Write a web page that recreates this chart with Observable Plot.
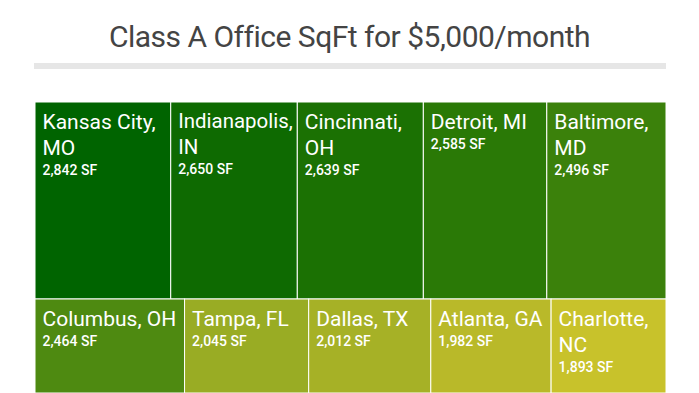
<!DOCTYPE html>
<html><head><meta charset="utf-8">
<script src="https://cdn.jsdelivr.net/npm/d3@7"></script>
<script src="https://cdn.jsdelivr.net/npm/@observablehq/plot@0.6"></script>
<style>
html,body{margin:0;padding:0;background:#fff;}
body{width:699px;height:393px;position:relative;overflow:hidden;font-family:Roboto,sans-serif;}
#title{position:absolute;left:0;width:699px;top:22px;text-align:center;font-size:30px;line-height:30px;letter-spacing:-0.5px;color:#444;white-space:nowrap;}
#rule{position:absolute;left:34px;top:63px;width:632px;height:6px;background:#e6e6e6;}
#chart{position:absolute;left:35px;top:102px;}
</style></head><body>
<div id="title">Class A Office SqFt for $5,000/month</div>
<div id="rule"></div>
<div id="chart"></div>
<script>
const cities = ["Kansas City, MO", "Indianapolis, IN", "Cincinnati, OH", "Detroit, MI", "Baltimore, MD",
                "Columbus, OH", "Tampa, FL", "Dallas, TX", "Atlanta, GA", "Charlotte, NC"];
const sqft = [2842, 2650, 2639, 2585, 2496, 2464, 2045, 2012, 1982, 1893];
const palette = ["#006400", "#0e6a01", "#1b7103", "#2a7906", "#3b810b", "#4e8a11", "#99ac24", "#a6b126", "#b9b929", "#c8c22b"];

const W = 631, H = 291, ROW1 = 0.677, PAD = 7, PAD_R = 5, NAME_SIZE = 21, LINE_EM = 1.23;
const fmt = d3.format(",");

const ctx = document.createElement("canvas").getContext("2d");
function measure(t, size) { ctx.font = `${size}px Roboto`; return ctx.measureText(t).width; }
function wrap(text, width, size) {
  const words = text.split(" ");
  const lines = [];
  let cur = "";
  for (const w of words) {
    const t = cur ? cur + " " + w : w;
    if (cur && measure(t, size) > width) { lines.push(cur); cur = w; }
    else cur = t;
  }
  if (cur) lines.push(cur);
  return lines;
}

const rows = [[0, 1, 2, 3, 4], [5, 6, 7, 8, 9]];
const cells = [];
rows.forEach((idx, r) => {
  const y0 = r === 0 ? 0 : ROW1 * H, y1 = r === 0 ? ROW1 * H : H;
  const total = d3.sum(idx, i => sqft[i]);
  let acc = 0;
  for (const i of idx) {
    const x0 = acc / total * W;
    acc += sqft[i];
    const x1 = acc / total * W;
    const avail = x1 - x0 - PAD - PAD_R;
    const longest = d3.max(cities[i].split(" "), w => measure(w, NAME_SIZE));
    const size = Math.min(NAME_SIZE, NAME_SIZE * avail / longest);
    const lines = wrap(cities[i], avail, size);
    cells.push({city: cities[i], value: sqft[i], x0, x1, y0, y1, size,
      label: lines.join("\n"), n: lines.length});
  }
});

const chart = Plot.plot({
  width: W, height: H, margin: 0,
  style: {fontFamily: "Roboto", background: "transparent"},
  x: {domain: [0, W], range: [0, W], axis: null},
  y: {domain: [0, H], range: [0, H], axis: null},
  color: {type: "ordinal", domain: cities, range: palette},
  marks: [
    Plot.rect(cells, {x1: "x0", x2: "x1", y1: "y0", y2: "y1", fill: "city", stroke: "white", strokeWidth: 1}),
    Plot.text(cells, {x: "x0", y: "y0", text: "label", dx: PAD, dy: 8, lineAnchor: "top", textAnchor: "start",
      fontSize: d => d.size, lineHeight: LINE_EM, fill: "white"}),
    Plot.text(cells, {x: "x0", y: d => d.y0 + 26.5 + (d.n - 1) * d.size * LINE_EM + 20, text: d => fmt(d.value) + " SF",
      dx: PAD, lineAnchor: "bottom", textAnchor: "start", fontSize: 14, fontWeight: 500, fill: "white"})
  ]
});
document.getElementById("chart").appendChild(chart);
</script>
</body></html>
